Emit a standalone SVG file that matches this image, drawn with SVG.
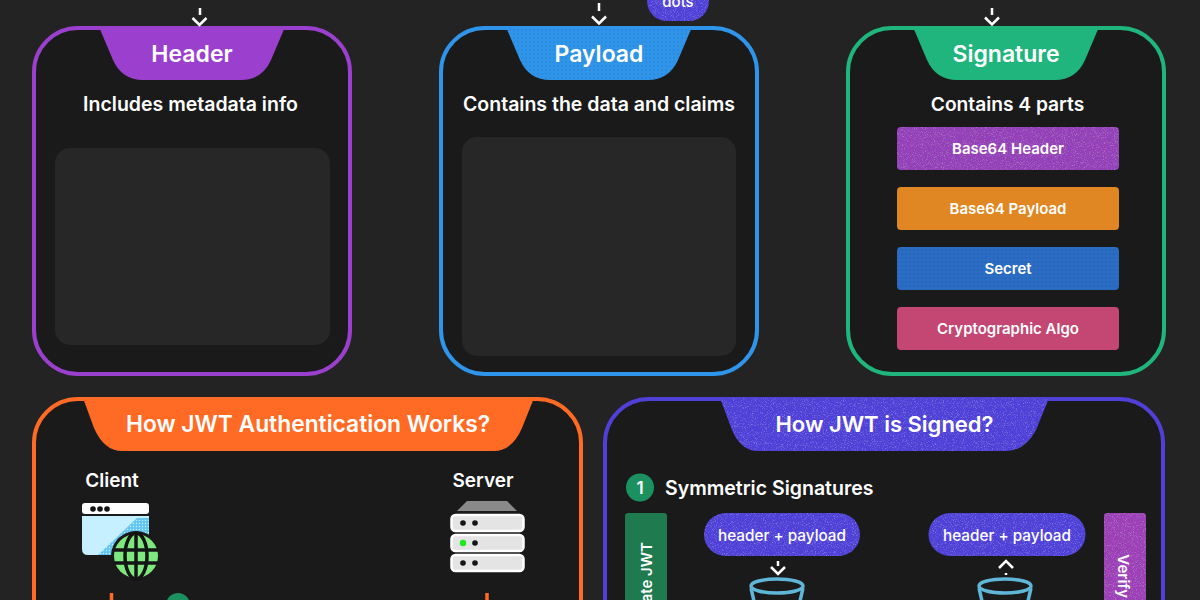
<svg xmlns="http://www.w3.org/2000/svg" width="1200" height="600" viewBox="0 0 1200 600">
<style>
text{font-family:Inter,"Noto Sans","Liberation Sans",sans-serif;fill:#fff;text-anchor:middle}
.card{fill:#1a1a1a;stroke-width:4}
.inner{fill:#272727}
.t{font-size:23px;font-weight:600}
.s{font-size:19.500px;font-weight:600}
.b{font-size:15px;font-weight:600}
.p{font-size:15.300px;font-weight:500}
.v{font-size:15px;font-weight:600}
.l{font-size:19.500px;font-weight:600}
.conn{fill:none;stroke:#fff;stroke-width:2.500}
.cup{fill:none;stroke:#5fb6d6;stroke-width:3.500}
.gl{fill:none;stroke:#141414;stroke-width:3.500}
.dot{fill:#141414}
.srv{fill:#e4e4e4;stroke:#fff;stroke-width:2.500}
.grain{filter:url(#grain)}
</style>
<defs>
<filter id="grain" x="0" y="0" width="1" height="1">
<feTurbulence type="fractalNoise" baseFrequency="1.100" numOctaves="2" seed="3" result="n"/>
<feColorMatrix in="n" type="matrix" values="0 0 0 0 1 0 0 0 0 1 0 0 0 0 1 0 0 0 0.500 -0.270" result="s"/>
<feComposite in="s" in2="SourceGraphic" operator="in" result="c"/>
<feMerge><feMergeNode in="SourceGraphic"/><feMergeNode in="c"/></feMerge>
</filter>
<pattern id="dotsp" width="4" height="4" patternUnits="userSpaceOnUse"><circle cx="2" cy="2" r="0.700" fill="#000" fill-opacity="0.160"/></pattern>
<pattern id="dotsw" width="3" height="3" patternUnits="userSpaceOnUse"><circle cx="1.500" cy="1.500" r="0.700" fill="#c6efff"/></pattern>
</defs>
<rect width="1200" height="600" fill="#232323"/>

<g id="dots"><rect class="grain" x="647" y="-26" width="62" height="47" rx="20" fill="#5040d8"/><text x="678" y="7" style="font-size:15px;font-weight:500">dots</text></g>

<g id="header">
<rect class="card" x="34" y="28" width="316" height="346" rx="44" stroke="#9b3fcf"/>
<path d="M99 27H285L271 60Q262 80 241 80H143Q122 80 113 60Z" fill="#9b3fcf"/>
<text class="t" x="192" y="62">Header</text>
<text class="s" x="190.500" y="111">Includes metadata info</text>
<rect class="inner" x="55" y="148" width="275" height="197" rx="15"/>
</g>

<g id="payload">
<rect class="card" x="441" y="28" width="316" height="346" rx="44" stroke="#2f95ea"/>
<path d="M506 27H692L678 60Q669 80 648 80H550Q529 80 520 60Z" fill="#2f95ea"/>
<path d="M506 27H692L678 60Q669 80 648 80H550Q529 80 520 60Z" fill="url(#dotsp)"/>
<text class="t" x="599" y="62">Payload</text>
<text class="s" x="599" y="111">Contains the data and claims</text>
<rect class="inner" x="462" y="137" width="274" height="219" rx="15"/>
</g>

<g id="signature">
<rect class="card" x="848" y="28" width="316" height="346" rx="44" stroke="#1fb57d"/>
<path d="M913 27H1099L1085 60Q1076 80 1055 80H957Q936 80 927 60Z" fill="#1fb57d"/>
<text class="t" x="1006" y="62">Signature</text>
<text class="s" x="1007.500" y="111" style="font-size:19.200px">Contains 4 parts</text>
</g>
<g id="base64-header"><rect class="grain" x="897" y="127" width="222" height="43" rx="4" fill="#9440b8"/><text class="b" x="1008" y="154">Base64 Header</text></g>
<g id="base64-payload"><rect x="897" y="187" width="222" height="43" rx="4" fill="#e08622"/><text class="b" x="1008" y="214">Base64 Payload</text></g>
<g id="secret"><rect x="897" y="247" width="222" height="43" rx="4" fill="#2b6cc4"/><rect x="897" y="247" width="222" height="43" rx="4" fill="url(#dotsp)"/><text class="b" x="1008" y="274">Secret</text></g>
<g id="crypto-algo"><rect x="897" y="307" width="222" height="43" rx="4" fill="#c44672"/><text class="b" x="1008" y="334">Cryptographic Algo</text></g>

<g id="auth">
<rect class="card" x="34" y="399" width="547" height="260" rx="44" stroke="#ff6b24"/>
<path d="M83 398H534L522 428Q512 451 494 451H122Q104 451 94 428Z" fill="#ff6b24"/>
<text class="t" x="308" y="432" style="font-size:22.800px">How JWT Authentication Works?</text>
<text class="l" x="112" y="487" style="font-size:19px">Client</text>
<text class="l" x="483" y="487" style="font-size:19px">Server</text>
</g>

<g id="client-icon">
<rect x="82" y="503" width="67" height="11" rx="3" fill="#fff"/>
<circle class="dot" cx="93" cy="509" r="2.800"/><circle class="dot" cx="100" cy="509" r="2.800"/><circle class="dot" cx="107" cy="509" r="2.800"/>
<path d="M82 516H149V555H88Q82 555 82 549Z" fill="#c6efff"/>
<path d="M98 555L137 518H149V555Z" fill="#62c6f0"/>
<path d="M98 555L137 518H149V555Z" fill="url(#dotsw)"/>
<circle cx="136" cy="556" r="25" fill="#1a1a1a"/>
<circle cx="136" cy="556" r="22" fill="#7ee87f"/>
<path class="gl" d="M114 550H158M114 563H158M136 534V578"/>
<ellipse class="gl" cx="136" cy="556" rx="11" ry="23"/>
</g>

<g id="server-icon">
<path d="M467 501H507L517 511H457Z" fill="#8a8a8a"/>
<rect class="srv" x="451.500" y="515" width="72" height="16" rx="4"/>
<rect class="srv" x="451.500" y="535" width="72" height="16" rx="4"/>
<rect class="srv" x="451.500" y="555" width="72" height="16" rx="4"/>
<circle class="dot" cx="463" cy="523" r="2.800"/><circle class="dot" cx="475" cy="523" r="2.800"/>
<circle cx="463" cy="543" r="3.200" fill="#1ee81e"/><circle class="dot" cx="475" cy="543" r="2.800"/>
<circle class="dot" cx="463" cy="563" r="2.800"/><circle class="dot" cx="475" cy="563" r="2.800"/>
</g>

<g id="step-badge"><circle cx="178" cy="605" r="12" fill="#1c9160"/></g>

<g id="signed">
<rect class="card" x="605" y="399" width="558" height="260" rx="44" stroke="#5040d8"/>
<path class="grain" d="M720 398H1049L1036 430Q1025 451 1006 451H758Q741 451 732 430Z" fill="#5040d8"/>
<text class="t" x="884.500" y="432" style="font-size:22px">How JWT is Signed?</text>
<circle cx="640" cy="487.500" r="14" fill="#1c9160"/>
<text x="640" y="494" style="font-size:17px;font-weight:600">1</text>
<text class="l" x="665" y="495" style="text-anchor:start">Symmetric Signatures</text>
</g>
<g id="create-jwt"><rect x="625" y="513" width="42" height="120" rx="3" fill="#1f7a50"/><text class="v" transform="translate(652 585) rotate(-90)">Create JWT</text></g>
<g id="verify-jwt"><rect class="grain" x="1104" y="513" width="42" height="120" rx="3" fill="#9d3fb8"/><text class="v" transform="translate(1118 595) rotate(90)">Verify JWT</text></g>
<g id="pill-left"><rect class="grain" x="704" y="513" width="156" height="43" rx="21.500" fill="#5040d8"/><text class="p" x="782" y="541">header + payload</text></g>
<g id="pill-right"><rect class="grain" x="928.500" y="513" width="157" height="43" rx="21.500" fill="#5040d8"/><text class="p" x="1007" y="541">header + payload</text></g>
<g id="cup-left"><ellipse class="cup" cx="777" cy="586" rx="26" ry="7"/><path class="cup" d="M751 588L756 610M803 588L798 610"/></g>
<g id="cup-right"><ellipse class="cup" cx="1005" cy="586" rx="26" ry="7"/><path class="cup" d="M979 588L984 610M1031 588L1026 610"/></g>

<g id="connectors">
<path class="conn" d="M200 8V15M192.500 18L199.500 25L206.500 18"/>
<path class="conn" d="M599 3V11M592 16.500L599 23.500L606 16.500"/>
<path class="conn" d="M992 8V15M985 17.500L992 24.500L999 17.500"/>
<path class="conn" d="M778 561V566M771 567L778 574L785 567"/>
<path class="conn" d="M999 568L1006 561L1013 568M1006 573V575"/>
<path d="M111.500 593V600M487 593V600" fill="none" stroke="#ff6b24" stroke-width="3.500"/>
</g>
</svg>
